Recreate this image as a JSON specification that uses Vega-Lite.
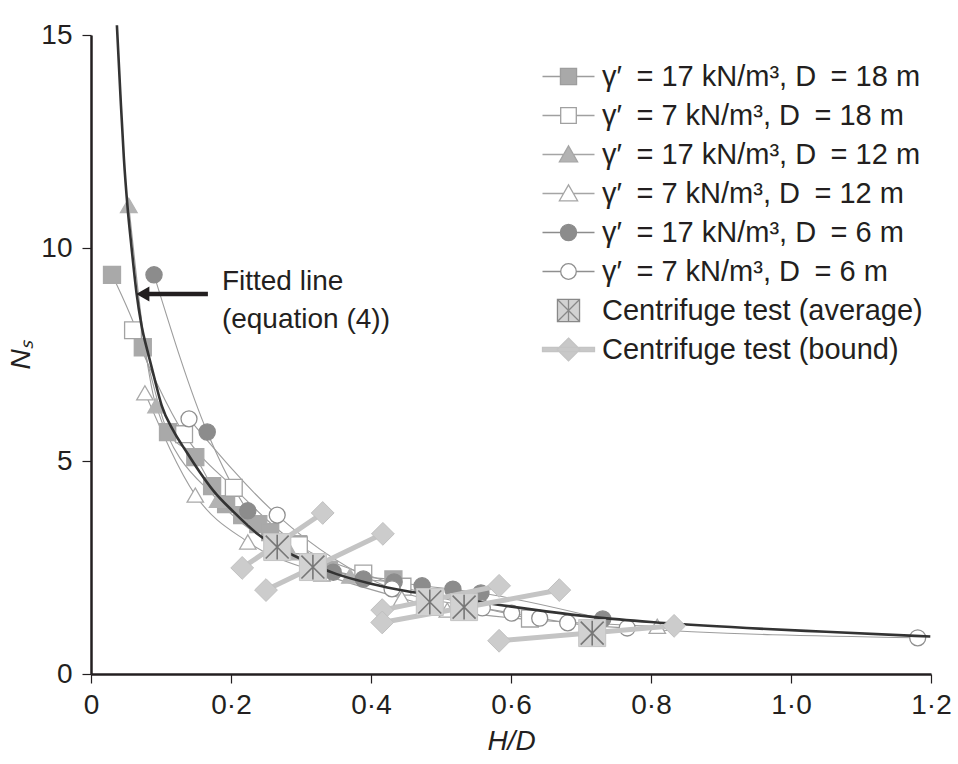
{
  "$schema": "https://vega.github.io/schema/vega-lite/v6.json",
  "width": 840,
  "height": 639,
  "autosize": {"type": "none"},
  "padding": {"left": 91, "top": 35, "right": 27, "bottom": 90},
  "background": "white",
  "config": {
    "view": {"stroke": null},
    "font": "Liberation Sans",
    "axis": {
      "grid": false,
      "domainColor": "#231f20",
      "domainWidth": 2.5,
      "tickColor": "#231f20",
      "tickWidth": 1.2,
      "tickSize": 9,
      "labelFont": "Liberation Sans",
      "labelFontSize": 28,
      "labelColor": "#231f20",
      "titleFont": "Liberation Sans",
      "titleFontSize": 28,
      "titleFontWeight": "normal",
      "titleFontStyle": "italic",
      "titleColor": "#231f20"
    },
    "legend": {
      "labelFont": "Liberation Sans",
      "labelFontSize": 29,
      "labelColor": "#231f20",
      "labelLimit": 500,
      "symbolSize": 676,
      "symbolStrokeWidth": 1.3,
      "rowPadding": 9,
      "labelOffset": 19,
      "padding": 0
    }
  },
  "datasets": {
    "sim": [
      {"series": "γ′ = 17 kN/m³, D = 18 m", "HD": 0.030, "Ns": 9.37},
      {"series": "γ′ = 17 kN/m³, D = 18 m", "HD": 0.074, "Ns": 7.67},
      {"series": "γ′ = 17 kN/m³, D = 18 m", "HD": 0.110, "Ns": 5.68},
      {"series": "γ′ = 17 kN/m³, D = 18 m", "HD": 0.149, "Ns": 5.09},
      {"series": "γ′ = 17 kN/m³, D = 18 m", "HD": 0.173, "Ns": 4.41},
      {"series": "γ′ = 17 kN/m³, D = 18 m", "HD": 0.193, "Ns": 3.99},
      {"series": "γ′ = 17 kN/m³, D = 18 m", "HD": 0.216, "Ns": 3.73},
      {"series": "γ′ = 17 kN/m³, D = 18 m", "HD": 0.239, "Ns": 3.52},
      {"series": "γ′ = 17 kN/m³, D = 18 m", "HD": 0.256, "Ns": 3.33},
      {"series": "γ′ = 17 kN/m³, D = 18 m", "HD": 0.296, "Ns": 3.05},
      {"series": "γ′ = 17 kN/m³, D = 18 m", "HD": 0.340, "Ns": 2.45},
      {"series": "γ′ = 17 kN/m³, D = 18 m", "HD": 0.432, "Ns": 2.22},
      {"series": "γ′ = 7 kN/m³, D = 18 m", "HD": 0.060, "Ns": 8.07},
      {"series": "γ′ = 7 kN/m³, D = 18 m", "HD": 0.133, "Ns": 5.63},
      {"series": "γ′ = 7 kN/m³, D = 18 m", "HD": 0.204, "Ns": 4.37},
      {"series": "γ′ = 7 kN/m³, D = 18 m", "HD": 0.297, "Ns": 3.02},
      {"series": "γ′ = 7 kN/m³, D = 18 m", "HD": 0.389, "Ns": 2.36},
      {"series": "γ′ = 7 kN/m³, D = 18 m", "HD": 0.445, "Ns": 2.05},
      {"series": "γ′ = 7 kN/m³, D = 18 m", "HD": 0.627, "Ns": 1.30},
      {"series": "γ′ = 17 kN/m³, D = 12 m", "HD": 0.054, "Ns": 11.0},
      {"series": "γ′ = 17 kN/m³, D = 12 m", "HD": 0.093, "Ns": 6.3},
      {"series": "γ′ = 17 kN/m³, D = 12 m", "HD": 0.181, "Ns": 4.08},
      {"series": "γ′ = 17 kN/m³, D = 12 m", "HD": 0.285, "Ns": 2.85},
      {"series": "γ′ = 17 kN/m³, D = 12 m", "HD": 0.370, "Ns": 2.3},
      {"series": "γ′ = 7 kN/m³, D = 12 m", "HD": 0.077, "Ns": 6.6},
      {"series": "γ′ = 7 kN/m³, D = 12 m", "HD": 0.149, "Ns": 4.2},
      {"series": "γ′ = 7 kN/m³, D = 12 m", "HD": 0.224, "Ns": 3.1},
      {"series": "γ′ = 7 kN/m³, D = 12 m", "HD": 0.330, "Ns": 2.35},
      {"series": "γ′ = 7 kN/m³, D = 12 m", "HD": 0.444, "Ns": 1.78},
      {"series": "γ′ = 7 kN/m³, D = 12 m", "HD": 0.509, "Ns": 1.5},
      {"series": "γ′ = 7 kN/m³, D = 12 m", "HD": 0.809, "Ns": 1.12},
      {"series": "γ′ = 17 kN/m³, D = 6 m", "HD": 0.090, "Ns": 9.37},
      {"series": "γ′ = 17 kN/m³, D = 6 m", "HD": 0.166, "Ns": 5.68},
      {"series": "γ′ = 17 kN/m³, D = 6 m", "HD": 0.224, "Ns": 3.83},
      {"series": "γ′ = 17 kN/m³, D = 6 m", "HD": 0.346, "Ns": 2.39},
      {"series": "γ′ = 17 kN/m³, D = 6 m", "HD": 0.389, "Ns": 2.23},
      {"series": "γ′ = 17 kN/m³, D = 6 m", "HD": 0.433, "Ns": 2.16},
      {"series": "γ′ = 17 kN/m³, D = 6 m", "HD": 0.473, "Ns": 2.07},
      {"series": "γ′ = 17 kN/m³, D = 6 m", "HD": 0.517, "Ns": 1.99},
      {"series": "γ′ = 17 kN/m³, D = 6 m", "HD": 0.557, "Ns": 1.9},
      {"series": "γ′ = 17 kN/m³, D = 6 m", "HD": 0.731, "Ns": 1.29},
      {"series": "γ′ = 7 kN/m³, D = 6 m", "HD": 0.140, "Ns": 5.99},
      {"series": "γ′ = 7 kN/m³, D = 6 m", "HD": 0.266, "Ns": 3.73},
      {"series": "γ′ = 7 kN/m³, D = 6 m", "HD": 0.430, "Ns": 2.0},
      {"series": "γ′ = 7 kN/m³, D = 6 m", "HD": 0.559, "Ns": 1.55},
      {"series": "γ′ = 7 kN/m³, D = 6 m", "HD": 0.601, "Ns": 1.43},
      {"series": "γ′ = 7 kN/m³, D = 6 m", "HD": 0.641, "Ns": 1.31},
      {"series": "γ′ = 7 kN/m³, D = 6 m", "HD": 0.681, "Ns": 1.2},
      {"series": "γ′ = 7 kN/m³, D = 6 m", "HD": 0.766, "Ns": 1.08},
      {"series": "γ′ = 7 kN/m³, D = 6 m", "HD": 1.181, "Ns": 0.85}
    ],
    "fit": [
      {"HD": 0.037, "Ns": 15.23},
      {"HD": 0.042, "Ns": 13.6},
      {"HD": 0.047, "Ns": 12.1},
      {"HD": 0.052, "Ns": 11.0},
      {"HD": 0.058, "Ns": 10.0},
      {"HD": 0.065, "Ns": 8.95},
      {"HD": 0.072, "Ns": 8.2},
      {"HD": 0.082, "Ns": 7.5},
      {"HD": 0.092, "Ns": 6.85},
      {"HD": 0.101, "Ns": 6.3},
      {"HD": 0.118, "Ns": 5.7},
      {"HD": 0.137, "Ns": 5.2},
      {"HD": 0.155, "Ns": 4.75},
      {"HD": 0.175, "Ns": 4.3},
      {"HD": 0.204, "Ns": 3.8},
      {"HD": 0.237, "Ns": 3.3},
      {"HD": 0.270, "Ns": 2.95},
      {"HD": 0.300, "Ns": 2.7},
      {"HD": 0.350, "Ns": 2.35},
      {"HD": 0.400, "Ns": 2.12},
      {"HD": 0.450, "Ns": 1.95},
      {"HD": 0.513, "Ns": 1.8},
      {"HD": 0.584, "Ns": 1.62},
      {"HD": 0.650, "Ns": 1.47},
      {"HD": 0.722, "Ns": 1.33},
      {"HD": 0.800, "Ns": 1.22},
      {"HD": 0.937, "Ns": 1.08},
      {"HD": 1.050, "Ns": 0.99},
      {"HD": 1.199, "Ns": 0.88}
    ],
    "avg": [
      {"HD": 0.266, "Ns": 2.98},
      {"HD": 0.317, "Ns": 2.51},
      {"HD": 0.484, "Ns": 1.69},
      {"HD": 0.533, "Ns": 1.57},
      {"HD": 0.716, "Ns": 0.96}
    ],
    "bound": [
      {"test": 1, "HD": 0.216, "Ns": 2.49},
      {"test": 1, "HD": 0.331, "Ns": 3.78},
      {"test": 2, "HD": 0.250, "Ns": 1.97},
      {"test": 2, "HD": 0.417, "Ns": 3.29},
      {"test": 3, "HD": 0.416, "Ns": 1.50},
      {"test": 3, "HD": 0.583, "Ns": 2.07},
      {"test": 4, "HD": 0.416, "Ns": 1.21},
      {"test": 4, "HD": 0.669, "Ns": 1.97},
      {"test": 5, "HD": 0.583, "Ns": 0.78},
      {"test": 5, "HD": 0.833, "Ns": 1.13}
    ],
    "arrow": [
      {"HD": 0.074, "HD2": 0.167, "Ns": 8.92}
    ],
    "note": [
      {"HD": 0.187, "Ns": 9.2, "label": "Fitted line"},
      {"HD": 0.187, "Ns": 8.31, "label": "(equation (4))"}
    ]
  },
  "encoding": {
    "x": {
      "field": "HD", "type": "quantitative",
      "scale": {"domain": [0, 1.2], "nice": false, "zero": false},
      "axis": {
        "title": "H/D",
        "values": [0, 0.2, 0.4, 0.6, 0.8, 1.0, 1.2],
        "labelExpr": "datum.value == 0 ? '0' : replace(format(datum.value, '.1f'), '.', '·')",
        "labelPadding": 8,
        "titlePadding": 8,
        "labelFlush": false
      }
    },
    "y": {
      "field": "Ns", "type": "quantitative",
      "scale": {"domain": [0, 15], "nice": false},
      "axis": {
        "title": "Nₛ",
        "values": [0, 5, 10, 15],
        "labelPadding": 10,
        "titlePadding": 5,
        "labelFlush": false
      }
    }
  },
  "layer": [
    {
      "data": {"name": "sim"},
      "mark": {"type": "line", "interpolate": "monotone", "strokeWidth": 1.1, "color": "#9d9d9d"},
      "encoding": {"detail": {"field": "series", "type": "nominal"}}
    },
    {
      "data": {"name": "sim"},
      "mark": {"type": "point", "opacity": 1, "strokeWidth": 1.3},
      "encoding": {
        "shape": {
          "field": "series", "type": "nominal", "legend": null,
          "scale": {
            "domain": ["γ′ = 17 kN/m³, D = 18 m", "γ′ = 7 kN/m³, D = 18 m", "γ′ = 17 kN/m³, D = 12 m", "γ′ = 7 kN/m³, D = 12 m", "γ′ = 17 kN/m³, D = 6 m", "γ′ = 7 kN/m³, D = 6 m"],
            "range": ["square", "square", "triangle-up", "triangle-up", "circle", "circle"]
          }
        },
        "fill": {
          "field": "series", "type": "nominal", "legend": null,
          "scale": {
            "domain": ["γ′ = 17 kN/m³, D = 18 m", "γ′ = 7 kN/m³, D = 18 m", "γ′ = 17 kN/m³, D = 12 m", "γ′ = 7 kN/m³, D = 12 m", "γ′ = 17 kN/m³, D = 6 m", "γ′ = 7 kN/m³, D = 6 m"],
            "range": ["#a9a9a9", "#ffffff", "#b3b3b3", "#ffffff", "#8c8c8c", "#ffffff"]
          }
        },
        "stroke": {
          "field": "series", "type": "nominal", "legend": null,
          "scale": {
            "domain": ["γ′ = 17 kN/m³, D = 18 m", "γ′ = 7 kN/m³, D = 18 m", "γ′ = 17 kN/m³, D = 12 m", "γ′ = 7 kN/m³, D = 12 m", "γ′ = 17 kN/m³, D = 6 m", "γ′ = 7 kN/m³, D = 6 m"],
            "range": ["#a9a9a9", "#a3a3a3", "#b3b3b3", "#a8a8a8", "#8c8c8c", "#8f8f8f"]
          }
        },
        "size": {
          "field": "series", "type": "ordinal", "legend": null,
          "scale": {
            "domain": ["γ′ = 17 kN/m³, D = 18 m", "γ′ = 7 kN/m³, D = 18 m", "γ′ = 17 kN/m³, D = 12 m", "γ′ = 7 kN/m³, D = 12 m", "γ′ = 17 kN/m³, D = 6 m", "γ′ = 7 kN/m³, D = 6 m"],
            "range": [289, 256, 320, 289, 205, 190]
          }
        }
      }
    },
    {
      "data": {"name": "fit"},
      "mark": {"type": "line", "interpolate": "monotone", "strokeWidth": 2.6, "color": "#333333"},
      "encoding": {}
    },
    {
      "data": {"name": "bound"},
      "mark": {"type": "line", "strokeWidth": 5, "color": "#c4c4c4"},
      "encoding": {"detail": {"field": "test", "type": "nominal"}}
    },
    {
      "data": {"name": "bound"},
      "mark": {"type": "point", "shape": "diamond", "size": 520, "filled": true, "opacity": 1, "color": "#cccccc", "stroke": "#c0c0c0", "strokeWidth": 1}
    },
    {
      "data": {"name": "avg"},
      "mark": {"type": "point", "shape": "square", "size": 729, "filled": true, "opacity": 1, "color": "#d2d2d2", "stroke": "#c4c4c4", "strokeWidth": 1}
    },
    {
      "data": {"name": "avg"},
      "mark": {"type": "point", "shape": "M-0.85,-0.85L0.85,0.85M0.85,-0.85L-0.85,0.85M0,-0.92L0,0.92", "size": 729, "filled": false, "opacity": 1, "stroke": "#777777", "strokeWidth": 1.6}
    },
    {
      "data": {"name": "arrow"},
      "mark": {"type": "rule", "strokeWidth": 4.5, "color": "#231f20"},
      "encoding": {"x2": {"field": "HD2"}, "y2": {"field": "Ns"}}
    },
    {
      "data": {"name": "arrow"},
      "mark": {"type": "point", "shape": "triangle-left", "size": 230, "filled": true, "opacity": 1, "color": "#231f20"}
    },
    {
      "data": {"name": "note"},
      "mark": {"type": "text", "align": "left", "baseline": "middle", "fontSize": 28, "font": "Liberation Sans", "color": "#231f20"},
      "encoding": {"text": {"field": "label"}}
    },
    {
      "data": {"name": "sim"},
      "transform": [{"filter": "datum.HD < 0"}],
      "mark": {"type": "point", "opacity": 1, "strokeWidth": 1.3},
      "encoding": {
        "shape": {
          "field": "series", "type": "nominal",
          "scale": {
            "domain": ["γ′ = 17 kN/m³, D = 18 m", "γ′ = 7 kN/m³, D = 18 m", "γ′ = 17 kN/m³, D = 12 m", "γ′ = 7 kN/m³, D = 12 m", "γ′ = 17 kN/m³, D = 6 m", "γ′ = 7 kN/m³, D = 6 m", "Centrifuge test (average)", "Centrifuge test (bound)"],
            "range": [
              "M-2,0L-0.62,0M0.62,0L2,0M-0.62,-0.62L0.62,-0.62L0.62,0.62L-0.62,0.62Z",
              "M-2,0L-0.6,0M0.6,0L2,0M-0.6,-0.6L0.6,-0.6L0.6,0.6L-0.6,0.6Z",
              "M-2,0L-0.36,0M0.36,0L2,0M0,-0.66L0.7,0.56L-0.7,0.56Z",
              "M-2,0L-0.36,0M0.36,0L2,0M0,-0.66L0.7,0.56L-0.7,0.56Z",
              "M-2,0L-0.62,0M0.62,0L2,0M-0.62,0A0.62,0.62 0 1,0 0.62,0A0.62,0.62 0 1,0 -0.62,0Z",
              "M-2,0L-0.6,0M0.6,0L2,0M-0.6,0A0.6,0.6 0 1,0 0.6,0A0.6,0.6 0 1,0 -0.6,0Z",
              "M-0.85,-0.85L0.85,-0.85L0.85,0.85L-0.85,0.85ZM-0.85,-0.85L0.85,0.85M0.85,-0.85L-0.85,0.85M0,-0.85L0,0.85",
              "M-2,-0.17L2,-0.17L2,0.17L-2,0.17ZM0,-0.88L0.88,0L0,0.88L-0.88,0Z"
            ]
          },
          "legend": {"title": null, "orient": "none", "legendX": 463, "legendY": 27, "labelExpr": "replace(replace(datum.label, ' = ', '\u2002= '), ' = ', '\u2002= ')"}
        },
        "fill": {
          "field": "series", "type": "nominal",
          "scale": {
            "domain": ["γ′ = 17 kN/m³, D = 18 m", "γ′ = 7 kN/m³, D = 18 m", "γ′ = 17 kN/m³, D = 12 m", "γ′ = 7 kN/m³, D = 12 m", "γ′ = 17 kN/m³, D = 6 m", "γ′ = 7 kN/m³, D = 6 m", "Centrifuge test (average)", "Centrifuge test (bound)"],
            "range": ["#a9a9a9", "#ffffff", "#b3b3b3", "#ffffff", "#8c8c8c", "#ffffff", "#d2d2d2", "#c8c8c8"]
          },
          "legend": {"title": null, "orient": "none", "legendX": 463, "legendY": 27, "labelExpr": "replace(replace(datum.label, ' = ', '\u2002= '), ' = ', '\u2002= ')"}
        },
        "stroke": {
          "field": "series", "type": "nominal",
          "scale": {
            "domain": ["γ′ = 17 kN/m³, D = 18 m", "γ′ = 7 kN/m³, D = 18 m", "γ′ = 17 kN/m³, D = 12 m", "γ′ = 7 kN/m³, D = 12 m", "γ′ = 17 kN/m³, D = 6 m", "γ′ = 7 kN/m³, D = 6 m", "Centrifuge test (average)", "Centrifuge test (bound)"],
            "range": ["#9d9d9d", "#a0a0a0", "#a5a5a5", "#a5a5a5", "#8c8c8c", "#8f8f8f", "#888888", "#c4c4c4"]
          },
          "legend": {"title": null, "orient": "none", "legendX": 463, "legendY": 27, "labelExpr": "replace(replace(datum.label, ' = ', '\u2002= '), ' = ', '\u2002= ')"}
        }
      }
    }
  ],
  "resolve": {"scale": {"shape": "independent", "fill": "independent", "stroke": "independent", "size": "independent"}}
}
